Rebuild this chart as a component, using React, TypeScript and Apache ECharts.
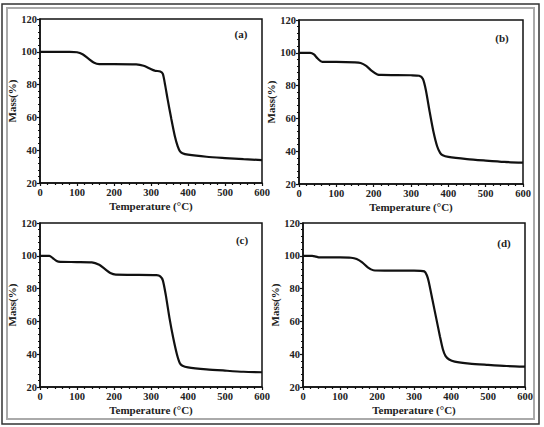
import React, { useEffect, useRef } from "react";
import * as echarts from "echarts";

const tempA = [0, 80, 100, 115, 130, 145, 160, 200, 260, 280, 295, 310, 325, 332, 338, 345, 355, 365, 372, 378, 385, 400, 450, 500, 550, 600];
const massA = [100, 100, 99.7, 98.5, 96, 93.5, 92.5, 92.5, 92.3, 91.5, 90, 88.5, 88, 86.5, 80, 71, 59, 48, 42.5, 39.5, 38.2, 37.3, 36, 35.2, 34.5, 34];

const tempB = [0, 30, 40, 50, 62, 100, 150, 165, 180, 195, 210, 220, 300, 322, 332, 340, 350, 360, 370, 378, 385, 400, 450, 500, 550, 600];
const massB = [100, 100, 99, 96.5, 94.5, 94.5, 94.2, 93.8, 92, 89, 86.8, 86.5, 86.3, 86, 84, 77, 64, 52, 43, 39, 37.5, 36.5, 35.2, 34.3, 33.5, 33];

const tempC = [0, 25, 35, 45, 55, 100, 140, 160, 175, 190, 205, 250, 315, 325, 332, 340, 350, 360, 370, 378, 385, 400, 450, 500, 550, 600];
const massC = [100, 100, 98.5, 96.8, 96.3, 96.2, 96, 94.5, 92, 89.5, 88.5, 88.4, 88.2, 87.5, 85, 76, 62, 50, 40, 34.5, 33, 32, 30.8, 30, 29.3, 29];

const tempD = [0, 25, 35, 45, 100, 130, 145, 160, 175, 190, 220, 300, 328, 335, 340, 350, 360, 370, 378, 385, 395, 410, 450, 500, 550, 600];
const massD = [100, 100, 99.5, 99, 99, 98.8, 98, 96, 93, 91.2, 91, 91, 90.5, 88, 84, 73, 62, 51, 43, 39, 36.8, 35.5, 34.3, 33.5, 32.8, 32.4];

const panelLabels = ["(a)", "(b)", "(c)", "(d)"];
const yAxisName = "Mass(%)";
const xAxisName = "Temperature (°C)";

const FONT = "'Liberation Serif', 'DejaVu Serif', serif";

export default function App() {
  const ref = useRef<HTMLDivElement>(null);
  useEffect(() => {
    if (!ref.current) return;
    const chart = echarts.init(ref.current, undefined, { renderer: "svg" });
    const grids = [
      { left: 40, top: 19, width: 222, height: 164 },
      { left: 299, top: 20, width: 224, height: 164 },
      { left: 40, top: 223, width: 222, height: 164 },
      { left: 303, top: 223, width: 222, height: 164 },
    ];
    const datasets = [
      [tempA, massA],
      [tempB, massB],
      [tempC, massC],
      [tempD, massD],
    ];
    const labelPos = [
      [241, 34],
      [502, 38],
      [242, 240],
      [504, 243],
    ];
    const axisText = { color: "#222", fontFamily: FONT, fontWeight: "bold" as const, fontSize: 11 };
    const option: any = {
      animation: false,
      backgroundColor: "#fff",
      grid: grids.map((g) => ({
        ...g,
        show: true,
        borderColor: "#111",
        borderWidth: 1.5,
        backgroundColor: "transparent",
      })),
      xAxis: grids.map((_, i) => ({
        type: "value",
        gridIndex: i,
        min: 0,
        max: 600,
        interval: 100,
        name: xAxisName,
        nameLocation: "middle",
        nameGap: 17,
        nameTextStyle: { ...axisText, fontSize: 11 },
        axisLine: { show: true, lineStyle: { color: "#111", width: 1.5 } },
        axisTick: { show: true, inside: false, length: 3, lineStyle: { color: "#111", width: 1.2 } },
        minorTick: { show: true, splitNumber: 5, length: 2, lineStyle: { color: "#111", width: 1.2 } },
        splitLine: { show: false },
        axisLabel: { ...axisText, margin: 4, fontSize: 10.5 },
      })),
      yAxis: grids.map((_, i) => ({
        type: "value",
        gridIndex: i,
        min: 20,
        max: 120,
        interval: 20,
        name: yAxisName,
        nameLocation: "middle",
        nameGap: 23,
        nameTextStyle: { ...axisText, fontSize: 11 },
        axisLine: { show: true, lineStyle: { color: "#111", width: 1.5 } },
        axisTick: { show: true, inside: false, length: 3, lineStyle: { color: "#111", width: 1.2 } },
        minorTick: { show: true, splitNumber: 5, length: 2, lineStyle: { color: "#111", width: 1.2 } },
        splitLine: { show: false },
        axisLabel: { ...axisText, margin: 3, fontSize: 10.5 },
      })),
      series: datasets.map(([t, m], i) => ({
        type: "line",
        xAxisIndex: i,
        yAxisIndex: i,
        data: t.map((x, k) => [x, m[k]]),
        smooth: 0.25,
        showSymbol: false,
        lineStyle: { color: "#111", width: 2.2 },
      })),
      graphic: [
        {
          type: "rect",
          shape: { x: 2, y: 4, width: 537, height: 420 },
          style: { fill: "none", stroke: "#333", lineWidth: 1.5 },
          silent: true,
        },
        {
          type: "rect",
          shape: { x: 7, y: 8, width: 527, height: 411 },
          style: { fill: "none", stroke: "#aaa", lineWidth: 2 },
          silent: true,
        },
        ...panelLabels.map((lbl, i) => ({
          type: "text",
          x: labelPos[i][0],
          y: labelPos[i][1],
          style: {
            text: lbl,
            font: `bold 11px ${FONT}`,
            fill: "#222",
            align: "center",
            verticalAlign: "middle",
          },
        })),
      ],
    };
    chart.setOption(option);
    return () => chart.dispose();
  }, []);
  return (
    <div
      ref={ref}
      style={{ position: "fixed", left: 0, top: 0, width: 544, height: 427 }}
    />
  );
}
